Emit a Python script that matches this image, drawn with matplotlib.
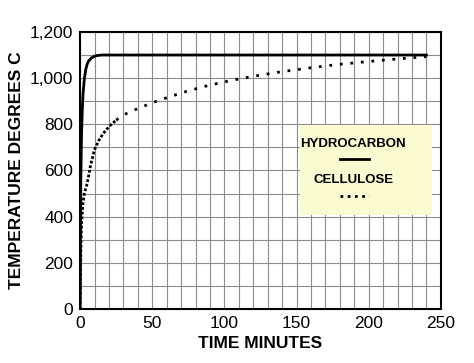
import matplotlib
matplotlib.use('Agg')
import matplotlib.pyplot as plt
from matplotlib.patches import Rectangle
from matplotlib.lines import Line2D

plt.rcParams['font.family'] = ['Liberation Sans', 'DejaVu Sans']

# hydrocarbon fire curve (minutes, deg C)
hc_t = [0, 0.5, 1, 1.5, 2, 3, 4, 5, 6, 8, 10, 12, 15, 20, 30, 60, 120, 180, 240]
hc_temp = [0, 560, 760, 860, 930, 1000, 1040, 1062, 1075, 1088, 1095, 1098, 1100, 1100, 1100, 1100, 1100, 1100, 1100]

# cellulosic fire curve
cel_t = [0, 0.5, 1, 2, 3, 4, 5, 7, 10, 13, 16, 20, 25, 30, 35, 40, 50, 60, 75, 90, 105, 120,
         140, 160, 180, 200, 220, 240]
cel_temp = [0, 250, 370, 460, 500, 525, 545, 615, 690, 730, 760, 790, 818, 840, 855, 868, 893, 915,
            945, 970, 990, 1008, 1028, 1045, 1060, 1072, 1083, 1093]
split = 12  # index where the dense early part ends (t=25)

fig = plt.figure(figsize=(4.74, 3.63), dpi=100)
ax = fig.add_axes([0.169, 0.149, 0.761, 0.763])

ax.plot(cel_t[:split + 1], cel_temp[:split + 1], color='black', linestyle=(0, (1, 0.7)),
        linewidth=2.0, zorder=3)
ax.plot(cel_t[split:], cel_temp[split:], color='black', linestyle=(0, (1, 2.8)),
        linewidth=2.0, zorder=3)
ax.plot(hc_t, hc_temp, color='black', linewidth=2.0, zorder=3)

ax.set_xlim(0, 250)
ax.set_ylim(0, 1200)
ax.set_xticks(range(0, 251, 50))
ax.set_yticks(range(0, 1201, 200))
ax.set_yticklabels(['0', '200', '400', '600', '800', '1,000', '1,200'])
ax.set_xticks(range(0, 251, 10), minor=True)
ax.set_yticks(range(0, 1201, 100), minor=True)
ax.grid(True, which='both', color='#8c8c8c', linewidth=0.8)
ax.tick_params(which='both', length=0, labelsize=12.5, pad=5)
for s in ax.spines.values():
    s.set_linewidth(1.5)

ax.set_xlabel('TIME MINUTES', fontsize=12.5, fontweight='bold', labelpad=4)
ax.set_ylabel('TEMPERATURE DEGREES C', fontsize=12.5, fontweight='bold', labelpad=4)

# legend box
ax.add_patch(Rectangle((0.609, 0.339), 0.366, 0.325, transform=ax.transAxes,
                       facecolor='#fbfbd2', edgecolor='none', zorder=4))
ax.text(0.757, 0.595, 'HYDROCARBON', transform=ax.transAxes, ha='center', va='center',
        fontsize=9.5, fontweight='bold', zorder=5)
ax.add_line(Line2D([0.72, 0.80], [0.542, 0.542], transform=ax.transAxes, color='black',
                   linewidth=2, zorder=5))
ax.text(0.757, 0.466, 'CELLULOSE', transform=ax.transAxes, ha='center', va='center',
        fontsize=9.5, fontweight='bold', zorder=5)
ax.add_line(Line2D([0.72, 0.80], [0.406, 0.406], transform=ax.transAxes, color='black',
                   linestyle=(0, (1, 1.6)), linewidth=2, zorder=5))

plt.savefig('out.png', dpi=100)
